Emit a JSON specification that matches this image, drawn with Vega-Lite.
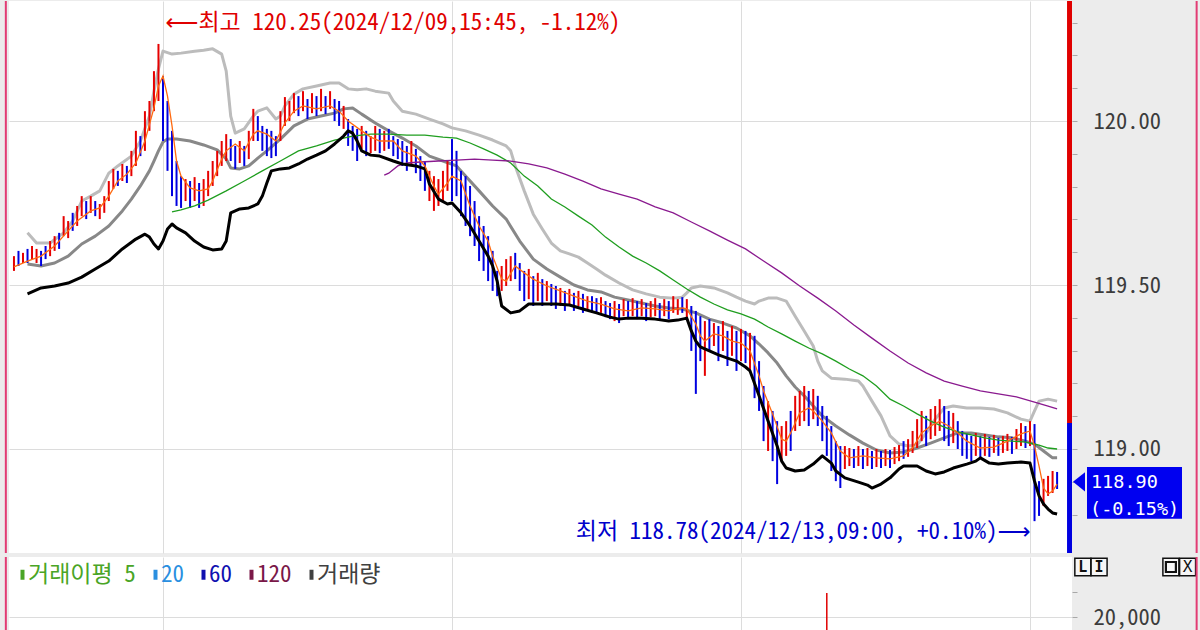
{
"$schema": "https://vega.github.io/schema/vega-lite/v6.json",
"background": "#ececec",
"padding": {"left": 4, "top": 0, "right": 0, "bottom": 0},
"spacing": 1,
"config": {"view": {"fill": "white", "stroke": null}},
"resolve": {"scale": {"x": "independent", "y": "independent", "color": "independent"}},
"datasets": {
"candles": [{"i":1,"h":119.588,"l":119.543,"d":"u"},{"i":2,"h":119.604,"l":119.558,"d":"d"},{"i":3,"h":119.598,"l":119.567,"d":"u"},{"i":4,"h":119.61,"l":119.567,"d":"d"},{"i":5,"h":119.619,"l":119.579,"d":"u"},{"i":6,"h":119.61,"l":119.567,"d":"u"},{"i":7,"h":119.604,"l":119.558,"d":"d"},{"i":8,"h":119.619,"l":119.579,"d":"d"},{"i":9,"h":119.634,"l":119.588,"d":"u"},{"i":10,"h":119.649,"l":119.604,"d":"u"},{"i":11,"h":119.659,"l":119.61,"d":"d"},{"i":12,"h":119.71,"l":119.649,"d":"u"},{"i":13,"h":119.695,"l":119.643,"d":"u"},{"i":14,"h":119.72,"l":119.665,"d":"d"},{"i":15,"h":119.741,"l":119.68,"d":"u"},{"i":16,"h":119.771,"l":119.71,"d":"u"},{"i":17,"h":119.756,"l":119.701,"d":"d"},{"i":18,"h":119.771,"l":119.72,"d":"u"},{"i":19,"h":119.756,"l":119.71,"d":"d"},{"i":20,"h":119.747,"l":119.701,"d":"u"},{"i":21,"h":119.771,"l":119.72,"d":"u"},{"i":22,"h":119.817,"l":119.756,"d":"u"},{"i":23,"h":119.854,"l":119.793,"d":"u"},{"i":24,"h":119.848,"l":119.802,"d":"d"},{"i":25,"h":119.869,"l":119.817,"d":"u"},{"i":26,"h":119.863,"l":119.811,"d":"d"},{"i":27,"h":119.909,"l":119.832,"d":"u"},{"i":28,"h":119.97,"l":119.863,"d":"u"},{"i":29,"h":119.954,"l":119.893,"d":"d"},{"i":30,"h":120.03,"l":119.909,"d":"u"},{"i":31,"h":120.061,"l":119.97,"d":"u"},{"i":32,"h":120.152,"l":120.03,"d":"u"},{"i":33,"h":120.235,"l":120.061,"d":"u"},{"i":34,"h":120.137,"l":119.939,"d":"d"},{"i":35,"h":120.061,"l":119.848,"d":"d"},{"i":36,"h":119.97,"l":119.771,"d":"d"},{"i":37,"h":119.878,"l":119.741,"d":"d"},{"i":38,"h":119.832,"l":119.735,"d":"d"},{"i":39,"h":119.823,"l":119.756,"d":"u"},{"i":40,"h":119.817,"l":119.735,"d":"d"},{"i":41,"h":119.829,"l":119.756,"d":"u"},{"i":42,"h":119.811,"l":119.735,"d":"d"},{"i":43,"h":119.823,"l":119.741,"d":"u"},{"i":44,"h":119.848,"l":119.771,"d":"u"},{"i":45,"h":119.878,"l":119.802,"d":"u"},{"i":46,"h":119.909,"l":119.832,"d":"u"},{"i":47,"h":119.939,"l":119.863,"d":"u"},{"i":48,"h":119.96,"l":119.878,"d":"u"},{"i":49,"h":119.945,"l":119.878,"d":"d"},{"i":50,"h":119.924,"l":119.854,"d":"d"},{"i":51,"h":119.939,"l":119.872,"d":"u"},{"i":52,"h":119.924,"l":119.863,"d":"d"},{"i":53,"h":119.97,"l":119.884,"d":"u"},{"i":54,"h":120.037,"l":119.939,"d":"u"},{"i":55,"h":120.015,"l":119.939,"d":"d"},{"i":56,"h":119.985,"l":119.909,"d":"d"},{"i":57,"h":119.976,"l":119.893,"d":"d"},{"i":58,"h":119.97,"l":119.887,"d":"d"},{"i":59,"h":119.954,"l":119.893,"d":"d"},{"i":60,"h":120.03,"l":119.939,"d":"u"},{"i":61,"h":120.073,"l":119.985,"d":"u"},{"i":62,"h":120.061,"l":120.0,"d":"u"},{"i":63,"h":120.085,"l":120.024,"d":"u"},{"i":64,"h":120.076,"l":120.015,"d":"d"},{"i":65,"h":120.091,"l":120.03,"d":"u"},{"i":66,"h":120.067,"l":120.006,"d":"d"},{"i":67,"h":120.085,"l":120.024,"d":"u"},{"i":68,"h":120.076,"l":120.015,"d":"d"},{"i":69,"h":120.098,"l":120.03,"d":"u"},{"i":70,"h":120.076,"l":120.021,"d":"d"},{"i":71,"h":120.091,"l":120.037,"d":"u"},{"i":72,"h":120.067,"l":120.0,"d":"d"},{"i":73,"h":120.061,"l":119.985,"d":"d"},{"i":74,"h":120.046,"l":119.976,"d":"u"},{"i":75,"h":120.006,"l":119.924,"d":"d"},{"i":76,"h":119.985,"l":119.909,"d":"d"},{"i":77,"h":119.976,"l":119.878,"d":"d"},{"i":78,"h":119.985,"l":119.915,"d":"u"},{"i":79,"h":119.97,"l":119.893,"d":"d"},{"i":80,"h":119.954,"l":119.902,"d":"u"},{"i":81,"h":119.985,"l":119.909,"d":"u"},{"i":82,"h":119.976,"l":119.902,"d":"d"},{"i":83,"h":119.97,"l":119.909,"d":"u"},{"i":84,"h":119.976,"l":119.915,"d":"d"},{"i":85,"h":119.954,"l":119.893,"d":"d"},{"i":86,"h":119.945,"l":119.884,"d":"d"},{"i":87,"h":119.939,"l":119.863,"d":"d"},{"i":88,"h":119.924,"l":119.848,"d":"d"},{"i":89,"h":119.939,"l":119.863,"d":"u"},{"i":90,"h":119.915,"l":119.841,"d":"d"},{"i":91,"h":119.893,"l":119.817,"d":"d"},{"i":92,"h":119.878,"l":119.787,"d":"d"},{"i":93,"h":119.848,"l":119.756,"d":"u"},{"i":94,"h":119.832,"l":119.726,"d":"u"},{"i":95,"h":119.823,"l":119.741,"d":"u"},{"i":96,"h":119.848,"l":119.756,"d":"u"},{"i":97,"h":119.878,"l":119.787,"d":"u"},{"i":98,"h":119.945,"l":119.756,"d":"d"},{"i":99,"h":119.909,"l":119.771,"d":"d"},{"i":100,"h":119.848,"l":119.71,"d":"d"},{"i":101,"h":119.832,"l":119.68,"d":"d"},{"i":102,"h":119.802,"l":119.649,"d":"d"},{"i":103,"h":119.756,"l":119.619,"d":"d"},{"i":104,"h":119.71,"l":119.573,"d":"d"},{"i":105,"h":119.68,"l":119.543,"d":"d"},{"i":106,"h":119.649,"l":119.512,"d":"d"},{"i":107,"h":119.604,"l":119.482,"d":"d"},{"i":108,"h":119.543,"l":119.466,"d":"d"},{"i":109,"h":119.558,"l":119.482,"d":"u"},{"i":110,"h":119.579,"l":119.497,"d":"u"},{"i":111,"h":119.588,"l":119.512,"d":"u"},{"i":112,"h":119.598,"l":119.518,"d":"d"},{"i":113,"h":119.567,"l":119.482,"d":"d"},{"i":114,"h":119.543,"l":119.451,"d":"d"},{"i":115,"h":119.549,"l":119.457,"d":"u"},{"i":116,"h":119.527,"l":119.436,"d":"d"},{"i":117,"h":119.537,"l":119.451,"d":"u"},{"i":118,"h":119.518,"l":119.436,"d":"d"},{"i":119,"h":119.512,"l":119.451,"d":"u"},{"i":120,"h":119.503,"l":119.436,"d":"d"},{"i":121,"h":119.497,"l":119.427,"d":"d"},{"i":122,"h":119.491,"l":119.436,"d":"u"},{"i":123,"h":119.482,"l":119.421,"d":"d"},{"i":124,"h":119.488,"l":119.436,"d":"u"},{"i":125,"h":119.476,"l":119.421,"d":"d"},{"i":126,"h":119.482,"l":119.436,"d":"u"},{"i":127,"h":119.473,"l":119.415,"d":"d"},{"i":128,"h":119.466,"l":119.421,"d":"u"},{"i":129,"h":119.466,"l":119.415,"d":"d"},{"i":130,"h":119.46,"l":119.412,"d":"d"},{"i":131,"h":119.463,"l":119.415,"d":"u"},{"i":132,"h":119.451,"l":119.402,"d":"d"},{"i":133,"h":119.445,"l":119.396,"d":"d"},{"i":134,"h":119.451,"l":119.39,"d":"u"},{"i":135,"h":119.442,"l":119.384,"d":"d"},{"i":136,"h":119.457,"l":119.405,"d":"u"},{"i":137,"h":119.451,"l":119.396,"d":"d"},{"i":138,"h":119.46,"l":119.405,"d":"u"},{"i":139,"h":119.451,"l":119.396,"d":"d"},{"i":140,"h":119.457,"l":119.405,"d":"u"},{"i":141,"h":119.445,"l":119.39,"d":"d"},{"i":142,"h":119.451,"l":119.402,"d":"u"},{"i":143,"h":119.46,"l":119.405,"d":"u"},{"i":144,"h":119.445,"l":119.396,"d":"d"},{"i":145,"h":119.457,"l":119.405,"d":"u"},{"i":146,"h":119.451,"l":119.396,"d":"d"},{"i":147,"h":119.466,"l":119.415,"d":"u"},{"i":148,"h":119.457,"l":119.409,"d":"u"},{"i":149,"h":119.463,"l":119.415,"d":"d"},{"i":150,"h":119.457,"l":119.402,"d":"u"},{"i":151,"h":119.436,"l":119.299,"d":"d"},{"i":152,"h":119.421,"l":119.168,"d":"d"},{"i":153,"h":119.405,"l":119.268,"d":"d"},{"i":154,"h":119.39,"l":119.223,"d":"u"},{"i":155,"h":119.396,"l":119.299,"d":"d"},{"i":156,"h":119.384,"l":119.314,"d":"u"},{"i":157,"h":119.375,"l":119.268,"d":"d"},{"i":158,"h":119.39,"l":119.299,"d":"u"},{"i":159,"h":119.36,"l":119.253,"d":"d"},{"i":160,"h":119.375,"l":119.284,"d":"u"},{"i":161,"h":119.36,"l":119.238,"d":"d"},{"i":162,"h":119.366,"l":119.268,"d":"u"},{"i":163,"h":119.36,"l":119.262,"d":"d"},{"i":164,"h":119.354,"l":119.238,"d":"u"},{"i":165,"h":119.345,"l":119.155,"d":"d"},{"i":166,"h":119.268,"l":119.116,"d":"d"},{"i":167,"h":119.192,"l":119.024,"d":"d"},{"i":168,"h":119.146,"l":118.994,"d":"u"},{"i":169,"h":119.116,"l":118.963,"d":"d"},{"i":170,"h":119.085,"l":118.893,"d":"d"},{"i":171,"h":119.07,"l":118.963,"d":"u"},{"i":172,"h":119.085,"l":118.979,"d":"u"},{"i":173,"h":119.116,"l":118.994,"d":"d"},{"i":174,"h":119.162,"l":119.055,"d":"u"},{"i":175,"h":119.177,"l":119.07,"d":"u"},{"i":176,"h":119.192,"l":119.085,"d":"u"},{"i":177,"h":119.177,"l":119.07,"d":"d"},{"i":178,"h":119.183,"l":119.091,"d":"u"},{"i":179,"h":119.162,"l":119.07,"d":"d"},{"i":180,"h":119.131,"l":119.024,"d":"d"},{"i":181,"h":119.101,"l":118.979,"d":"d"},{"i":182,"h":119.07,"l":118.933,"d":"d"},{"i":183,"h":119.024,"l":118.902,"d":"d"},{"i":184,"h":119.009,"l":118.881,"d":"d"},{"i":185,"h":119.009,"l":118.939,"d":"u"},{"i":186,"h":119.003,"l":118.948,"d":"u"},{"i":187,"h":119.0,"l":118.942,"d":"d"},{"i":188,"h":119.009,"l":118.948,"d":"u"},{"i":189,"h":119.0,"l":118.939,"d":"d"},{"i":190,"h":119.003,"l":118.948,"d":"u"},{"i":191,"h":118.994,"l":118.939,"d":"d"},{"i":192,"h":119.0,"l":118.945,"d":"u"},{"i":193,"h":118.994,"l":118.942,"d":"d"},{"i":194,"h":119.0,"l":118.948,"d":"u"},{"i":195,"h":118.997,"l":118.942,"d":"d"},{"i":196,"h":119.006,"l":118.954,"d":"u"},{"i":197,"h":119.012,"l":118.963,"d":"u"},{"i":198,"h":119.024,"l":118.97,"d":"d"},{"i":199,"h":119.03,"l":118.976,"d":"u"},{"i":200,"h":119.055,"l":118.988,"d":"u"},{"i":201,"h":119.091,"l":119.003,"d":"u"},{"i":202,"h":119.116,"l":119.024,"d":"u"},{"i":203,"h":119.101,"l":119.009,"d":"d"},{"i":204,"h":119.122,"l":119.03,"d":"u"},{"i":205,"h":119.131,"l":119.04,"d":"u"},{"i":206,"h":119.152,"l":119.055,"d":"u"},{"i":207,"h":119.131,"l":119.024,"d":"d"},{"i":208,"h":119.116,"l":119.009,"d":"d"},{"i":209,"h":119.11,"l":119.018,"d":"u"},{"i":210,"h":119.085,"l":119.0,"d":"d"},{"i":211,"h":119.055,"l":118.979,"d":"d"},{"i":212,"h":119.046,"l":118.97,"d":"d"},{"i":213,"h":119.04,"l":118.963,"d":"d"},{"i":214,"h":119.049,"l":118.979,"d":"u"},{"i":215,"h":119.04,"l":118.97,"d":"d"},{"i":216,"h":119.046,"l":118.979,"d":"u"},{"i":217,"h":119.037,"l":118.976,"d":"d"},{"i":218,"h":119.043,"l":118.988,"d":"u"},{"i":219,"h":119.034,"l":118.979,"d":"d"},{"i":220,"h":119.04,"l":118.988,"d":"u"},{"i":221,"h":119.046,"l":118.994,"d":"u"},{"i":222,"h":119.037,"l":118.985,"d":"d"},{"i":223,"h":119.061,"l":119.0,"d":"u"},{"i":224,"h":119.079,"l":119.009,"d":"u"},{"i":225,"h":119.07,"l":119.003,"d":"d"},{"i":226,"h":119.085,"l":119.009,"d":"u"},{"i":227,"h":119.076,"l":118.78,"d":"d"},{"i":228,"h":118.902,"l":118.796,"d":"d"},{"i":229,"h":118.909,"l":118.826,"d":"u"},{"i":230,"h":118.918,"l":118.857,"d":"u"},{"i":231,"h":118.933,"l":118.866,"d":"u"},{"i":232,"h":118.93,"l":118.878,"d":"d"}],
"ma5": [{"i":1,"v":119.555},{"i":4,"v":119.573},{"i":7,"v":119.588},{"i":10,"v":119.619},{"i":13,"v":119.665},{"i":15,"v":119.695},{"i":18,"v":119.726},{"i":20,"v":119.735},{"i":22,"v":119.771},{"i":24,"v":119.817},{"i":26,"v":119.838},{"i":28,"v":119.872},{"i":30,"v":119.939},{"i":32,"v":120.04},{"i":33,"v":120.107},{"i":34,"v":120.137},{"i":35,"v":120.076},{"i":36,"v":119.985},{"i":37,"v":119.878},{"i":38,"v":119.832},{"i":40,"v":119.796},{"i":42,"v":119.787},{"i":44,"v":119.793},{"i":45,"v":119.817},{"i":47,"v":119.884},{"i":48,"v":119.909},{"i":50,"v":119.93},{"i":52,"v":119.909},{"i":54,"v":119.96},{"i":55,"v":119.97},{"i":57,"v":119.96},{"i":59,"v":119.939},{"i":61,"v":119.994},{"i":63,"v":120.03},{"i":65,"v":120.046},{"i":68,"v":120.037},{"i":71,"v":120.046},{"i":73,"v":120.03},{"i":75,"v":120.0},{"i":78,"v":119.97},{"i":80,"v":119.951},{"i":82,"v":119.939},{"i":85,"v":119.939},{"i":87,"v":119.909},{"i":90,"v":119.893},{"i":92,"v":119.863},{"i":94,"v":119.802},{"i":95,"v":119.777},{"i":97,"v":119.811},{"i":98,"v":119.832},{"i":100,"v":119.817},{"i":102,"v":119.741},{"i":104,"v":119.68},{"i":106,"v":119.634},{"i":107,"v":119.588},{"i":109,"v":119.518},{"i":110,"v":119.512},{"i":112,"v":119.558},{"i":114,"v":119.537},{"i":116,"v":119.518},{"i":119,"v":119.497},{"i":122,"v":119.482},{"i":125,"v":119.466},{"i":128,"v":119.451},{"i":131,"v":119.442},{"i":134,"v":119.427},{"i":137,"v":119.421},{"i":140,"v":119.43},{"i":143,"v":119.427},{"i":146,"v":119.421},{"i":149,"v":119.43},{"i":150,"v":119.427},{"i":152,"v":119.381},{"i":153,"v":119.345},{"i":154,"v":119.329},{"i":156,"v":119.351},{"i":158,"v":119.345},{"i":160,"v":119.329},{"i":162,"v":119.323},{"i":164,"v":119.299},{"i":166,"v":119.223},{"i":167,"v":119.177},{"i":169,"v":119.107},{"i":171,"v":119.03},{"i":172,"v":119.024},{"i":173,"v":119.049},{"i":175,"v":119.11},{"i":177,"v":119.125},{"i":178,"v":119.116},{"i":180,"v":119.085},{"i":182,"v":119.049},{"i":184,"v":118.994},{"i":186,"v":118.973},{"i":189,"v":118.979},{"i":192,"v":118.973},{"i":195,"v":118.97},{"i":198,"v":118.979},{"i":200,"v":119.003},{"i":202,"v":119.049},{"i":204,"v":119.07},{"i":206,"v":119.085},{"i":208,"v":119.07},{"i":210,"v":119.049},{"i":212,"v":119.024},{"i":215,"v":119.003},{"i":218,"v":119.006},{"i":221,"v":119.024},{"i":224,"v":119.046},{"i":226,"v":119.055},{"i":227,"v":119.009},{"i":228,"v":118.948},{"i":229,"v":118.881},{"i":230,"v":118.863},{"i":231,"v":118.872},{"i":232,"v":118.893}],
"base": [{"i":4,"v":119.564},{"i":7,"v":119.558},{"i":10,"v":119.567},{"i":13,"v":119.588},{"i":16,"v":119.625},{"i":19,"v":119.649},{"i":22,"v":119.68},{"i":25,"v":119.726},{"i":27,"v":119.762},{"i":29,"v":119.802},{"i":31,"v":119.848},{"i":32,"v":119.878},{"i":33,"v":119.909},{"i":34,"v":119.936},{"i":35,"v":119.945},{"i":37,"v":119.945},{"i":40,"v":119.939},{"i":43,"v":119.927},{"i":46,"v":119.912},{"i":48,"v":119.884},{"i":49,"v":119.857},{"i":51,"v":119.854},{"i":53,"v":119.863},{"i":55,"v":119.887},{"i":57,"v":119.909},{"i":60,"v":119.945},{"i":63,"v":119.985},{"i":66,"v":120.006},{"i":69,"v":120.015},{"i":72,"v":120.024},{"i":74,"v":120.037},{"i":76,"v":120.04},{"i":78,"v":120.021},{"i":81,"v":119.994},{"i":84,"v":119.97},{"i":87,"v":119.948},{"i":90,"v":119.924},{"i":93,"v":119.893},{"i":96,"v":119.878},{"i":99,"v":119.863},{"i":101,"v":119.832},{"i":104,"v":119.787},{"i":107,"v":119.741},{"i":110,"v":119.701},{"i":113,"v":119.634},{"i":116,"v":119.579},{"i":119,"v":119.549},{"i":122,"v":119.524},{"i":125,"v":119.5},{"i":128,"v":119.485},{"i":131,"v":119.479},{"i":134,"v":119.463},{"i":137,"v":119.454},{"i":140,"v":119.445},{"i":143,"v":119.436},{"i":146,"v":119.43},{"i":149,"v":119.427},{"i":152,"v":119.415},{"i":155,"v":119.396},{"i":158,"v":119.384},{"i":161,"v":119.369},{"i":164,"v":119.345},{"i":166,"v":119.32},{"i":168,"v":119.293},{"i":170,"v":119.262},{"i":172,"v":119.223},{"i":174,"v":119.189},{"i":176,"v":119.162},{"i":178,"v":119.131},{"i":180,"v":119.101},{"i":183,"v":119.07},{"i":186,"v":119.043},{"i":189,"v":119.018},{"i":192,"v":118.997},{"i":195,"v":118.988},{"i":198,"v":118.991},{"i":201,"v":119.003},{"i":204,"v":119.018},{"i":207,"v":119.034},{"i":210,"v":119.049},{"i":213,"v":119.049},{"i":216,"v":119.043},{"i":219,"v":119.037},{"i":222,"v":119.034},{"i":225,"v":119.024},{"i":227,"v":119.015},{"i":229,"v":118.994},{"i":231,"v":118.973},{"i":232,"v":118.973}],
"upper": [{"i":4,"v":119.659},{"i":6,"v":119.628},{"i":9,"v":119.628},{"i":12,"v":119.659},{"i":14,"v":119.695},{"i":16,"v":119.756},{"i":18,"v":119.771},{"i":20,"v":119.787},{"i":22,"v":119.841},{"i":24,"v":119.863},{"i":27,"v":119.893},{"i":29,"v":119.939},{"i":31,"v":120.015},{"i":32,"v":120.091},{"i":33,"v":120.159},{"i":34,"v":120.213},{"i":36,"v":120.204},{"i":38,"v":120.207},{"i":41,"v":120.213},{"i":43,"v":120.216},{"i":45,"v":120.22},{"i":47,"v":120.204},{"i":48,"v":120.152},{"i":49,"v":120.015},{"i":50,"v":119.963},{"i":52,"v":119.976},{"i":54,"v":120.015},{"i":55,"v":120.03},{"i":57,"v":120.04},{"i":59,"v":120.006},{"i":60,"v":120.015},{"i":61,"v":120.046},{"i":63,"v":120.082},{"i":65,"v":120.098},{"i":68,"v":120.107},{"i":71,"v":120.116},{"i":73,"v":120.116},{"i":75,"v":120.098},{"i":77,"v":120.095},{"i":79,"v":120.098},{"i":81,"v":120.091},{"i":84,"v":120.085},{"i":85,"v":120.061},{"i":87,"v":120.03},{"i":90,"v":120.021},{"i":93,"v":120.006},{"i":96,"v":119.991},{"i":98,"v":119.979},{"i":101,"v":119.97},{"i":104,"v":119.957},{"i":107,"v":119.942},{"i":110,"v":119.924},{"i":111,"v":119.909},{"i":112,"v":119.863},{"i":114,"v":119.787},{"i":116,"v":119.716},{"i":118,"v":119.671},{"i":120,"v":119.628},{"i":122,"v":119.604},{"i":124,"v":119.595},{"i":126,"v":119.585},{"i":128,"v":119.567},{"i":130,"v":119.549},{"i":132,"v":119.53},{"i":135,"v":119.506},{"i":138,"v":119.485},{"i":141,"v":119.473},{"i":144,"v":119.463},{"i":147,"v":119.46},{"i":149,"v":119.463},{"i":150,"v":119.476},{"i":151,"v":119.491},{"i":153,"v":119.497},{"i":156,"v":119.491},{"i":159,"v":119.476},{"i":161,"v":119.463},{"i":163,"v":119.451},{"i":165,"v":119.442},{"i":166,"v":119.451},{"i":168,"v":119.46},{"i":170,"v":119.46},{"i":172,"v":119.451},{"i":174,"v":119.405},{"i":176,"v":119.36},{"i":178,"v":119.314},{"i":179,"v":119.268},{"i":180,"v":119.238},{"i":182,"v":119.216},{"i":185,"v":119.213},{"i":188,"v":119.207},{"i":189,"v":119.192},{"i":191,"v":119.146},{"i":193,"v":119.101},{"i":195,"v":119.04},{"i":197,"v":119.015},{"i":199,"v":119.009},{"i":201,"v":119.012},{"i":203,"v":119.049},{"i":205,"v":119.091},{"i":207,"v":119.125},{"i":209,"v":119.131},{"i":212,"v":119.125},{"i":215,"v":119.125},{"i":218,"v":119.122},{"i":221,"v":119.11},{"i":224,"v":119.091},{"i":226,"v":119.085},{"i":227,"v":119.116},{"i":228,"v":119.146},{"i":230,"v":119.152},{"i":232,"v":119.146}],
"lower": [{"i":4,"v":119.473},{"i":7,"v":119.491},{"i":10,"v":119.497},{"i":13,"v":119.506},{"i":16,"v":119.524},{"i":19,"v":119.549},{"i":22,"v":119.573},{"i":25,"v":119.61},{"i":28,"v":119.64},{"i":30,"v":119.655},{"i":31,"v":119.646},{"i":32,"v":119.625},{"i":33,"v":119.61},{"i":34,"v":119.634},{"i":35,"v":119.671},{"i":36,"v":119.686},{"i":37,"v":119.674},{"i":39,"v":119.659},{"i":41,"v":119.634},{"i":43,"v":119.616},{"i":45,"v":119.607},{"i":47,"v":119.61},{"i":48,"v":119.634},{"i":49,"v":119.72},{"i":51,"v":119.732},{"i":53,"v":119.735},{"i":55,"v":119.747},{"i":56,"v":119.771},{"i":57,"v":119.811},{"i":58,"v":119.848},{"i":60,"v":119.854},{"i":62,"v":119.857},{"i":64,"v":119.869},{"i":66,"v":119.884},{"i":68,"v":119.896},{"i":70,"v":119.909},{"i":72,"v":119.93},{"i":74,"v":119.954},{"i":75,"v":119.97},{"i":76,"v":119.963},{"i":77,"v":119.939},{"i":78,"v":119.909},{"i":80,"v":119.896},{"i":82,"v":119.893},{"i":85,"v":119.878},{"i":87,"v":119.869},{"i":90,"v":119.863},{"i":92,"v":119.854},{"i":93,"v":119.808},{"i":95,"v":119.762},{"i":97,"v":119.747},{"i":98,"v":119.75},{"i":100,"v":119.72},{"i":102,"v":119.68},{"i":104,"v":119.634},{"i":106,"v":119.588},{"i":107,"v":119.558},{"i":108,"v":119.512},{"i":109,"v":119.436},{"i":111,"v":119.415},{"i":113,"v":119.421},{"i":115,"v":119.442},{"i":118,"v":119.442},{"i":121,"v":119.442},{"i":124,"v":119.439},{"i":127,"v":119.427},{"i":130,"v":119.415},{"i":133,"v":119.402},{"i":135,"v":119.396},{"i":137,"v":119.399},{"i":140,"v":119.399},{"i":143,"v":119.396},{"i":146,"v":119.39},{"i":148,"v":119.393},{"i":150,"v":119.399},{"i":151,"v":119.36},{"i":152,"v":119.329},{"i":153,"v":119.311},{"i":155,"v":119.299},{"i":157,"v":119.287},{"i":159,"v":119.277},{"i":161,"v":119.268},{"i":163,"v":119.25},{"i":164,"v":119.238},{"i":166,"v":119.162},{"i":168,"v":119.085},{"i":170,"v":119.009},{"i":171,"v":118.963},{"i":172,"v":118.942},{"i":174,"v":118.933},{"i":176,"v":118.936},{"i":178,"v":118.954},{"i":180,"v":118.979},{"i":182,"v":118.957},{"i":183,"v":118.933},{"i":185,"v":118.912},{"i":188,"v":118.899},{"i":190,"v":118.89},{"i":191,"v":118.881},{"i":193,"v":118.893},{"i":195,"v":118.912},{"i":197,"v":118.939},{"i":198,"v":118.948},{"i":201,"v":118.948},{"i":203,"v":118.933},{"i":205,"v":118.924},{"i":207,"v":118.93},{"i":209,"v":118.942},{"i":212,"v":118.954},{"i":214,"v":118.963},{"i":215,"v":118.973},{"i":217,"v":118.957},{"i":219,"v":118.954},{"i":221,"v":118.957},{"i":224,"v":118.96},{"i":226,"v":118.957},{"i":227,"v":118.902},{"i":228,"v":118.857},{"i":229,"v":118.832},{"i":230,"v":118.817},{"i":231,"v":118.805},{"i":232,"v":118.802}],
"ma60": [{"i":36,"v":119.723},{"i":38,"v":119.729},{"i":41,"v":119.741},{"i":44,"v":119.759},{"i":48,"v":119.787},{"i":52,"v":119.817},{"i":56,"v":119.848},{"i":60,"v":119.878},{"i":64,"v":119.909},{"i":68,"v":119.924},{"i":72,"v":119.942},{"i":76,"v":119.954},{"i":80,"v":119.96},{"i":84,"v":119.96},{"i":88,"v":119.957},{"i":92,"v":119.957},{"i":96,"v":119.951},{"i":99,"v":119.948},{"i":102,"v":119.933},{"i":105,"v":119.915},{"i":108,"v":119.896},{"i":111,"v":119.872},{"i":114,"v":119.832},{"i":117,"v":119.802},{"i":120,"v":119.762},{"i":123,"v":119.738},{"i":126,"v":119.71},{"i":129,"v":119.683},{"i":132,"v":119.646},{"i":135,"v":119.616},{"i":138,"v":119.588},{"i":141,"v":119.567},{"i":144,"v":119.543},{"i":147,"v":119.515},{"i":150,"v":119.488},{"i":153,"v":119.463},{"i":156,"v":119.442},{"i":159,"v":119.424},{"i":162,"v":119.412},{"i":165,"v":119.396},{"i":168,"v":119.372},{"i":171,"v":119.351},{"i":174,"v":119.329},{"i":177,"v":119.308},{"i":180,"v":119.29},{"i":183,"v":119.268},{"i":186,"v":119.244},{"i":189,"v":119.223},{"i":192,"v":119.192},{"i":195,"v":119.152},{"i":198,"v":119.131},{"i":201,"v":119.107},{"i":204,"v":119.085},{"i":207,"v":119.067},{"i":210,"v":119.052},{"i":213,"v":119.043},{"i":216,"v":119.034},{"i":219,"v":119.027},{"i":222,"v":119.024},{"i":225,"v":119.021},{"i":228,"v":119.012},{"i":230,"v":119.003},{"i":232,"v":119.0}],
"ma120": [{"i":83,"v":119.835},{"i":84,"v":119.841},{"i":86,"v":119.863},{"i":88,"v":119.872},{"i":91,"v":119.875},{"i":95,"v":119.878},{"i":99,"v":119.881},{"i":103,"v":119.884},{"i":107,"v":119.881},{"i":111,"v":119.878},{"i":115,"v":119.869},{"i":119,"v":119.857},{"i":123,"v":119.838},{"i":127,"v":119.817},{"i":131,"v":119.793},{"i":135,"v":119.777},{"i":139,"v":119.762},{"i":143,"v":119.738},{"i":147,"v":119.72},{"i":151,"v":119.692},{"i":155,"v":119.665},{"i":159,"v":119.637},{"i":163,"v":119.61},{"i":167,"v":119.573},{"i":171,"v":119.537},{"i":175,"v":119.497},{"i":179,"v":119.46},{"i":183,"v":119.421},{"i":187,"v":119.378},{"i":191,"v":119.338},{"i":195,"v":119.299},{"i":199,"v":119.262},{"i":203,"v":119.232},{"i":207,"v":119.207},{"i":211,"v":119.192},{"i":215,"v":119.177},{"i":219,"v":119.168},{"i":223,"v":119.159},{"i":227,"v":119.143},{"i":230,"v":119.131},{"i":232,"v":119.122}],
"sides": [{"top":120.3659,"bot":119.079,"s":"up"},{"top":119.079,"bot":118.6829,"s":"dn"}],
"notes": [{"i":33,"v":120.235,"kind":"hi","text":"⟵최고 120.25(2024/12/09,15:45, -1.12%)"},{"i":227,"v":118.78,"kind":"lo","text":"최저 118.78(2024/12/13,09:00, +0.10%)⟶"}],
"last": [{"v":118.9,"price":"118.90","chg":"(-0.15%)"}],
"volume": [{"i":33,"v":12000},{"i":152,"v":11000},{"i":170,"v":14000},{"i":181,"v":24800},{"i":227,"v":13000}],
"vma": [{"i":0,"s":"거래이평 5","v":9000},{"i":116,"s":"거래이평 5","v":10000},{"i":232,"s":"거래이평 5","v":11000},{"i":0,"s":"20","v":8000},{"i":116,"s":"20","v":8500},{"i":232,"s":"20","v":9500},{"i":0,"s":"60","v":7000},{"i":116,"s":"60","v":7500},{"i":232,"s":"60","v":8000},{"i":0,"s":"120","v":6000},{"i":116,"s":"120","v":6500},{"i":232,"s":"120","v":7000}]
},
"vconcat": [
{
"width": 1063, "height": 552,
"layer": [
{"data": {"name": "upper"}, "mark": {"type": "line", "color": "#bcbcbc", "strokeWidth": 3, "strokeJoin": "round"},
 "encoding": {
  "x": {"field": "i", "type": "quantitative", "title": null, "scale": {"domain": [-0.1, 235.3], "nice": false, "zero": false},
        "axis": {"orient": "bottom", "values": [34, 98, 162, 226], "grid": true, "gridColor": "#dcdcdc", "labels": false, "ticks": false, "domain": false, "title": null, "minExtent": 0, "maxExtent": 0, "offset": 0}},
  "y": {"field": "v", "type": "quantitative", "title": null, "scale": {"domain": [118.6829, 120.3659], "nice": false, "zero": false},
        "axis": {"orient": "right", "values": [118.8,118.9,119,119.1,119.2,119.3,119.4,119.5,119.6,119.7,119.8,119.9,120,120.1,120.2,120.3], "tickCount": 40,
                 "labelExpr": "abs(datum.value*2-round(datum.value*2))<0.001 ? format(datum.value,'.2f') : ''",
                 "grid": true, "gridColor": "#dcdcdc",
                 "gridOpacity": {"condition": {"test": "abs(datum.value*2-round(datum.value*2))<0.001", "value": 1}, "value": 0},
                 "domain": false, "tickColor": "#a8a8a8", "tickSize": 5, "labelPadding": 16, "labelOverlap": false,
                 "labelFont": "Noto Sans Mono CJK KR, DejaVu Sans Mono", "labelFontSize": 22.5, "labelColor": "#3c3c3c", "labelBaseline": "middle",
                 "minExtent": 128, "maxExtent": 128, "title": null}}
 }},
{"data": {"name": "base"}, "mark": {"type": "line", "color": "#888888", "strokeWidth": 3, "strokeJoin": "round"},
 "encoding": {"x": {"field": "i", "type": "quantitative", "title": null}, "y": {"field": "v", "type": "quantitative", "title": null}}},
{"data": {"name": "candles"}, "mark": {"type": "rule", "strokeWidth": 2},
 "encoding": {"x": {"field": "i", "type": "quantitative", "title": null}, "y": {"field": "l", "type": "quantitative", "title": null}, "y2": {"field": "h"},
  "color": {"condition": {"test": "datum.d === 'u'", "value": "#e60000"}, "value": "#0000e0"}}},
{"data": {"name": "ma60"}, "mark": {"type": "line", "color": "#1f9e1f", "strokeWidth": 1.3},
 "encoding": {"x": {"field": "i", "type": "quantitative", "title": null}, "y": {"field": "v", "type": "quantitative", "title": null}}},
{"data": {"name": "ma120"}, "mark": {"type": "line", "color": "#8a1a8f", "strokeWidth": 1.3},
 "encoding": {"x": {"field": "i", "type": "quantitative", "title": null}, "y": {"field": "v", "type": "quantitative", "title": null}}},
{"data": {"name": "lower"}, "mark": {"type": "line", "color": "#000000", "strokeWidth": 3, "strokeJoin": "round"},
 "encoding": {"x": {"field": "i", "type": "quantitative", "title": null}, "y": {"field": "v", "type": "quantitative", "title": null}}},
{"data": {"name": "ma5"}, "mark": {"type": "line", "color": "#ff6a10", "strokeWidth": 1.3},
 "encoding": {"x": {"field": "i", "type": "quantitative", "title": null}, "y": {"field": "v", "type": "quantitative", "title": null}}},
{"data": {"name": "sides"}, "mark": {"type": "rect"},
 "encoding": {"x": {"datum": 234.2, "type": "quantitative"}, "x2": {"datum": 235.3}, "y": {"field": "top", "type": "quantitative", "title": null}, "y2": {"field": "bot"},
  "color": {"condition": {"test": "datum.s === 'up'", "value": "#e00000"}, "value": "#0000e0"}}},
{"data": {"name": "notes"}, "transform": [{"filter": "datum.kind === 'hi'"}],
 "mark": {"type": "text", "align": "left", "baseline": "middle", "dx": 7, "dy": -21, "font": "Noto Sans Mono CJK KR, DejaVu Sans", "fontSize": 23, "color": "#e00000"},
 "encoding": {"x": {"field": "i", "type": "quantitative", "title": null}, "y": {"field": "v", "type": "quantitative", "title": null}, "text": {"field": "text"}}},
{"data": {"name": "notes"}, "transform": [{"filter": "datum.kind === 'lo'"}],
 "mark": {"type": "text", "align": "right", "baseline": "middle", "dx": -4, "dy": 11, "font": "Noto Sans Mono CJK KR, DejaVu Sans", "fontSize": 23, "color": "#0000cc"},
 "encoding": {"x": {"field": "i", "type": "quantitative", "title": null}, "y": {"field": "v", "type": "quantitative", "title": null}, "text": {"field": "text"}}},
{"data": {"name": "last"}, "mark": {"type": "point", "filled": true, "opacity": 1, "color": "#0000f0", "shape": "M-1,-0.31H1V0.78H-1Z", "size": 9025},
 "encoding": {"x": {"datum": 249.14, "type": "quantitative"}, "y": {"field": "v", "type": "quantitative", "title": null}}},
{"data": {"name": "last"}, "mark": {"type": "point", "filled": true, "opacity": 1, "color": "#0000f0", "shape": "M-1,0L1,-1.6L1,1.6Z", "size": 144},
 "encoding": {"x": {"datum": 236.85, "type": "quantitative"}, "y": {"field": "v", "type": "quantitative", "title": null}}},
{"data": {"name": "last"}, "mark": {"type": "text", "align": "left", "baseline": "middle", "font": "DejaVu Sans Mono", "fontSize": 18.5, "color": "white"},
 "encoding": {"x": {"datum": 239.5, "type": "quantitative"}, "y": {"field": "v", "type": "quantitative", "title": null}, "text": {"field": "price"}}},
{"data": {"name": "last"}, "mark": {"type": "text", "align": "left", "baseline": "middle", "dy": 27, "font": "DejaVu Sans Mono", "fontSize": 18.5, "color": "white"},
 "encoding": {"x": {"datum": 239.3, "type": "quantitative"}, "y": {"field": "v", "type": "quantitative", "title": null}, "text": {"field": "chg"}}},
{"data": {"values": [{}]}, "mark": {"type": "rule", "color": "#e23c74", "strokeWidth": 2}, "encoding": {"x": {"datum": -0.8, "type": "quantitative"}}},
{"data": {"values": [{}]}, "mark": {"type": "rule", "color": "#e23c74", "strokeWidth": 2}, "encoding": {"x": {"datum": 262.9, "type": "quantitative"}}}
]
},
{
"width": 1063, "height": 77,
"layer": [
{"data": {"name": "vma"}, "mark": {"type": "line", "clip": true, "strokeWidth": 1},
 "encoding": {
  "x": {"field": "i", "type": "quantitative", "title": null, "scale": {"domain": [-0.1, 235.3], "nice": false, "zero": false},
        "axis": {"orient": "bottom", "values": [34, 98, 162, 226], "grid": true, "gridColor": "#dcdcdc", "labels": false, "ticks": false, "domain": false, "title": null, "minExtent": 0, "maxExtent": 0, "offset": 0}},
  "y": {"field": "v", "type": "quantitative", "title": null, "scale": {"domain": [16600, 32000], "nice": false, "zero": false},
        "axis": {"orient": "right", "values": [20000, 25000], "labelExpr": "datum.value === 20000 ? '20,000' : ''",
                 "grid": true, "gridColor": "#dcdcdc", "gridOpacity": {"condition": {"test": "datum.value === 20000", "value": 1}, "value": 0},
                 "domain": false, "tickColor": "#a8a8a8", "tickSize": 5, "labelPadding": 16, "labelOverlap": false,
                 "labelFont": "Noto Sans Mono CJK KR, DejaVu Sans Mono", "labelFontSize": 22.5, "labelColor": "#3c3c3c", "labelBaseline": "middle",
                 "minExtent": 128, "maxExtent": 128, "title": null}},
  "color": {"field": "s", "type": "nominal",
            "scale": {"domain": ["거래이평 5", "20", "60", "120", "거래량"], "range": ["#4aa526", "#2a8fe0", "#1010b0", "#7a1848", "#404040"]},
            "legend": {"orient": "none", "legendX": 2, "legendY": 6, "direction": "horizontal", "columns": 5, "title": null,
                       "symbolType": "M0,-2.5L0,2.5", "symbolSize": 16, "symbolStrokeWidth": 4,
                       "labelFont": "Noto Sans Mono CJK KR, Noto Sans CJK KR", "labelFontSize": 23, "labelOffset": -6, "columnPadding": 8, "padding": 0,
                       "encode": {"labels": {"update": {"fill": {"signal": "datum.label === '거래이평 5' ? '#4aa526' : datum.label === '20' ? '#2a8fe0' : datum.label === '60' ? '#1010b0' : datum.label === '120' ? '#7a1848' : '#404040'"}}}}}}
 }},
{"data": {"name": "volume"}, "mark": {"type": "rule", "clip": true, "color": "#e00000", "strokeWidth": 1.5},
 "encoding": {"x": {"field": "i", "type": "quantitative", "title": null}, "y": {"field": "v", "type": "quantitative", "title": null}, "y2": {"datum": 0}}},
{"data": {"values": [{}]}, "mark": {"type": "point", "filled": true, "opacity": 1, "fill": "#f6f6f6", "stroke": "#111111", "strokeWidth": 1.5, "shape": "M-1,-1.1H1V1.1H-1Z", "size": 256},
 "encoding": {"x": {"datum": 237.7, "type": "quantitative"}, "y": {"datum": 30000, "type": "quantitative"}}},
{"data": {"values": [{}]}, "mark": {"type": "point", "filled": true, "opacity": 1, "fill": "#f6f6f6", "stroke": "#111111", "strokeWidth": 1.5, "shape": "M-1,-1.1H1V1.1H-1Z", "size": 256},
 "encoding": {"x": {"datum": 241.3, "type": "quantitative"}, "y": {"datum": 30000, "type": "quantitative"}}},
{"data": {"values": [{}]}, "mark": {"type": "point", "filled": true, "opacity": 1, "fill": "#f6f6f6", "stroke": "#111111", "strokeWidth": 1.5, "shape": "M-1,-1.1H1V1.1H-1Z", "size": 256},
 "encoding": {"x": {"datum": 257.2, "type": "quantitative"}, "y": {"datum": 30000, "type": "quantitative"}}},
{"data": {"values": [{}]}, "mark": {"type": "point", "filled": true, "opacity": 1, "fill": "#f6f6f6", "stroke": "#111111", "strokeWidth": 1.5, "shape": "M-1,-1.1H1V1.1H-1Z", "size": 256},
 "encoding": {"x": {"datum": 260.9, "type": "quantitative"}, "y": {"datum": 30000, "type": "quantitative"}}},
{"data": {"values": [{}]}, "mark": {"type": "point", "filled": false, "opacity": 1, "stroke": "#111111", "strokeWidth": 2.2, "shape": "M-1,-1H1V1H-1Z", "size": 100},
 "encoding": {"x": {"datum": 257.2, "type": "quantitative"}, "y": {"datum": 30000, "type": "quantitative"}}},
{"data": {"values": [{"t": "L"}]}, "mark": {"type": "text", "align": "center", "baseline": "middle", "font": "DejaVu Sans Mono", "fontWeight": "bold", "fontSize": 15, "color": "#111111"},
 "encoding": {"x": {"datum": 237.7, "type": "quantitative"}, "y": {"datum": 30000, "type": "quantitative"}, "text": {"field": "t"}}},
{"data": {"values": [{"t": "I"}]}, "mark": {"type": "text", "align": "center", "baseline": "middle", "font": "DejaVu Sans Mono", "fontWeight": "bold", "fontSize": 15, "color": "#111111"},
 "encoding": {"x": {"datum": 241.3, "type": "quantitative"}, "y": {"datum": 30000, "type": "quantitative"}, "text": {"field": "t"}}},
{"data": {"values": [{"t": "X"}]}, "mark": {"type": "text", "align": "center", "baseline": "middle", "font": "DejaVu Sans Mono", "fontSize": 16, "color": "#111111"},
 "encoding": {"x": {"datum": 260.9, "type": "quantitative"}, "y": {"datum": 30000, "type": "quantitative"}, "text": {"field": "t"}}},
{"data": {"values": [{}]}, "mark": {"type": "rule", "color": "#e23c74", "strokeWidth": 2}, "encoding": {"x": {"datum": -0.8, "type": "quantitative"}}},
{"data": {"values": [{}]}, "mark": {"type": "rule", "color": "#e23c74", "strokeWidth": 2}, "encoding": {"x": {"datum": 262.9, "type": "quantitative"}}}
]
}
]
}
